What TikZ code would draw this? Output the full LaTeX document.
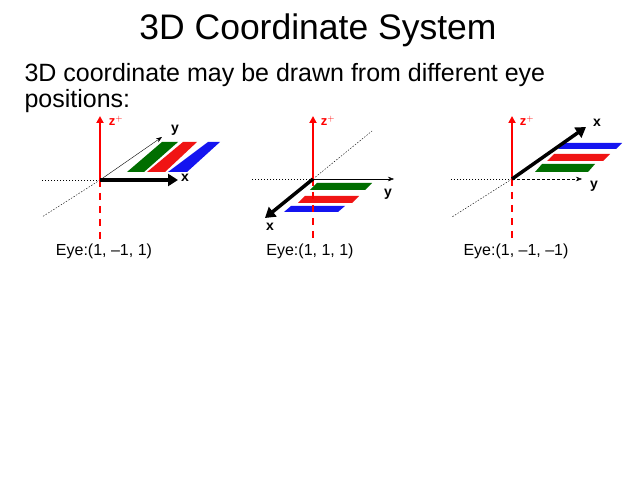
\documentclass[tikz,border=0pt]{standalone}
\usepackage{fontspec}
\setmainfont{Liberation Sans}
\usetikzlibrary{arrows.meta}
\definecolor{stripered}{RGB}{240,20,20}
\definecolor{stripegreen}{RGB}{0,110,0}
\definecolor{stripeblue}{RGB}{20,20,240}
\tikzset{
  zaxis/.style={red,line width=2.5pt,-{Triangle[length=7pt,width=7pt]}},
  zneg/.style={red,line width=2.5pt,dash pattern=on 7pt off 6pt},
  hidden/.style={black,thin,dash pattern=on 1.5pt off 1.5pt},
  thinaxis/.style={black,thin,-{Stealth[length=6pt]}},
  thickaxis/.style={black,line width=3.5pt,-{Triangle[length=10pt,width=12pt]}},
  axlabel/.style={font=\bfseries\fontsize{14}{16}\selectfont},
  zlabel/.style={red,font=\bfseries\fontsize{13}{15}\selectfont},
  eyelabel/.style={font=\fontsize{16}{19}\selectfont},
}
\begin{document}
\begin{tikzpicture}[x=1pt,y=-1pt]
      \useasboundingbox (0,0) rectangle (638,478);
      \node (title) at (318,30) {\fontsize{35.5}{40}\selectfont 3D Coordinate System};
      \node (text1) [anchor=west] at (21,75) {\fontsize{25}{30}\selectfont 3D coordinate may be drawn from different eye};
      \node (text2) [anchor=west] at (21,101) {\fontsize{25}{30}\selectfont positions:};

      % eye (1,-1,1)
      \coordinate (o1) at (100,180);
      \coordinate (z1) at (100,116);
      \coordinate (d1) at (100,240);
      \coordinate (h1) at (40,180);
      \coordinate (k1) at (42,217);
      \coordinate (y1) at (162,137);
      \coordinate (x1) at (178,180);
      \fill[stripegreen] (127,172) -- (144,172) -- (178,142) -- (162,142) -- cycle;
      \fill[stripered] (147,172) -- (165,172) -- (197,142) -- (183,142) -- cycle;
      \fill[stripeblue] (168,172) -- (187,172) -- (220,142) -- (208,142) -- cycle;
      \draw[hidden] (o1) -- (h1);
      \draw[hidden] (o1) -- (k1);
      \draw[zneg] (o1) -- (d1);
      \draw[zaxis] (o1) -- (z1);
      \draw[thinaxis] (o1) -- (y1);
      \draw[thickaxis] (o1) -- (x1);
      \node[zlabel] (zl1) at (116,121) {z$^{+}$};
      \node[axlabel] (yl1) at (175,130) {y};
      \node[axlabel] (xl1) at (185,178) {x};
      \node[eyelabel] (eye1) at (104,251) {Eye:(1, --1, 1)};

      % eye (1,1,1)
      \coordinate (o2) at (313,179);
      \coordinate (z2) at (313,116);
      \coordinate (d2) at (313,240);
      \coordinate (h2) at (252,179);
      \coordinate (k2) at (372,131);
      \coordinate (y2) at (394,179);
      \coordinate (x2) at (265,218);
      \fill[stripegreen] (310,190) -- (365,190) -- (372,183) -- (317,183) -- cycle;
      \fill[stripered] (298,203) -- (352,203) -- (359,196) -- (305,196) -- cycle;
      \fill[stripeblue] (284,212) -- (338,212) -- (345,206) -- (291,206) -- cycle;
      \draw[hidden] (o2) -- (h2);
      \draw[hidden] (o2) -- (k2);
      \draw[zneg] (o2) -- (d2);
      \draw[zaxis] (o2) -- (z2);
      \draw[thinaxis] (o2) -- (y2);
      \draw[thickaxis] (o2) -- (x2);
      \node[zlabel] (zl2) at (328,121) {z$^{+}$};
      \node[axlabel] (yl2) at (388,194) {y};
      \node[axlabel] (xl2) at (270,227) {x};
      \node[eyelabel] (eye2) at (310,251) {Eye:(1, 1, 1)};

      % eye (1,-1,-1)
      \coordinate (o3) at (512,179);
      \coordinate (z3) at (512,116);
      \coordinate (d3) at (512,240);
      \coordinate (h3) at (449,179);
      \coordinate (k3) at (452,217);
      \coordinate (y3) at (582,179);
      \coordinate (x3) at (586,127);
      \fill[stripeblue] (558,149) -- (616,149) -- (622,143) -- (565,143) -- cycle;
      \fill[stripered] (547,161) -- (603,161) -- (610,154) -- (554,154) -- cycle;
      \fill[stripegreen] (535,172) -- (588,172) -- (595,164) -- (542,164) -- cycle;
      \draw[hidden] (o3) -- (h3);
      \draw[hidden] (o3) -- (k3);
      \draw[zneg] (o3) -- (d3);
      \draw[zaxis] (o3) -- (z3);
      \draw[thinaxis,densely dashed] (o3) -- (y3);
      \draw[thickaxis] (o3) -- (x3);
      \node[zlabel] (zl3) at (527,121) {z$^{+}$};
      \node[axlabel] (yl3) at (594,186) {y};
      \node[axlabel] (xl3) at (597,123) {x};
      \node[eyelabel] (eye3) at (516,251) {Eye:(1, --1, --1)};
\end{tikzpicture}
\end{document}
